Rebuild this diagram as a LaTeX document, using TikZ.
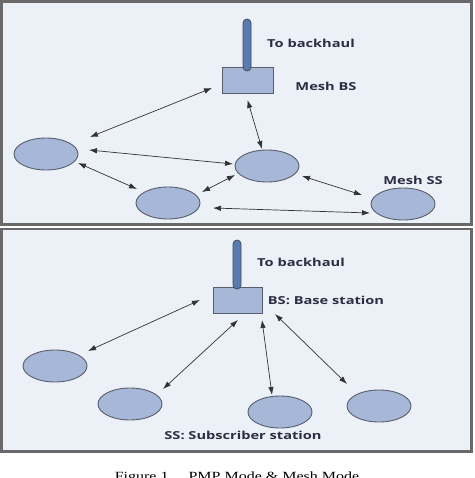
\documentclass[tikz,border=0pt]{standalone}
\usepackage{fontspec}
\newfontfamily\lblfont{Open Sans}
\newfontfamily\capfont{Liberation Serif}
\usetikzlibrary{arrows.meta,shapes.geometric}
\definecolor{panelbg}{RGB}{236,240,247}
\definecolor{panelline}{RGB}{105,105,108}
\definecolor{ssfill}{RGB}{167,183,216}
\definecolor{ssline}{RGB}{88,94,108}
\definecolor{polefill}{RGB}{88,124,178}
\definecolor{lblcol}{RGB}{45,45,68}
\begin{document}
\begin{tikzpicture}[x=1pt, y=-1pt,
  panel/.style={fill=panelbg, draw=panelline, line width=2.5pt},
  ss/.style={ellipse, draw=ssline, fill=ssfill, line width=0.9pt, minimum width=64pt, minimum height=32pt, inner sep=0pt},
  bsbox/.style={rectangle, draw=ssline, fill=ssfill, line width=0.9pt, minimum width=51pt, minimum height=26pt, inner sep=0pt},
  pole/.style={fill=polefill, draw=ssline!80!black, line width=0.8pt, rounded corners=4pt},
  link/.style={{Latex[length=8pt,width=5.5pt]}-{Latex[length=8pt,width=5.5pt]}, draw=black!80, line width=0.7pt},
  lbl/.style={text=lblcol, font=\lblfont\bfseries\fontsize{11}{13}\selectfont, xscale=1.33, inner sep=0pt}]
\clip (0,0) rectangle (474,478);
\useasboundingbox (0,0) rectangle (474,478);
\fill[white] (0,0) rectangle (474,478);

% Mesh mode
\filldraw[panel] (1.5,1.5) rectangle (471.5,224.5);
\node[bsbox] (bs) at (247.5,80) {}; % Mesh BS
\filldraw[pole] (243,19) rectangle (251,71);
\node[ss] (e1) at (46,154) {};
\node[ss] (e2) at (267,166) {};
\node[ss] (e3) at (168,203) {};
\node[ss] (e4) at (403,204) {};
\draw[link] ([shift={(44,-17)}]e1.center) -- ([shift={(-35.5,8)}]bs.center);
\draw[link] ([shift={(0,20)}]bs.center) -- ([shift={(-5,-17)}]e2.center);
\draw[link] ([shift={(43,-4)}]e1.center) -- ([shift={(-34,-2)}]e2.center);
\draw[link] ([shift={(32,9)}]e1.center) -- ([shift={(-31,-14)}]e3.center);
\draw[link] ([shift={(34,-11)}]e3.center) -- ([shift={(-32,9)}]e2.center);
\draw[link] ([shift={(35,10)}]e2.center) -- ([shift={(-41,-9)}]e4.center);
\draw[link] ([shift={(45,5)}]e3.center) -- ([shift={(-33,9)}]e4.center);
\node[lbl] (bh1) at (311,43) {To backhaul};
\node[lbl] (mbs) at (326,86) {Mesh BS};
\node[lbl] (mss) at (413,180) {Mesh SS};

% PMP mode
\filldraw[panel] (1.5,229) rectangle (471.5,451.5);
\node[bsbox, minimum width=49pt] (bs2) at (237.5,300) {}; % BS
\filldraw[pole] (233,240) rectangle (241,289);
\node[ss] (ea) at (55,366) {};
\node[ss] (eb) at (130,404) {};
\node[ss] (ec) at (280,412) {};
\node[ss] (ed) at (379,406) {};
\draw[link] ([shift={(33,-15)}]ea.center) -- ([shift={(-37.5,0)}]bs2.center);
\draw[link] ([shift={(33,-15)}]eb.center) -- ([shift={(0.5,20)}]bs2.center);
\draw[link] ([shift={(-8,-17)}]ec.center) -- ([shift={(24.5,20)}]bs2.center);
\draw[link] ([shift={(-32,-22)}]ed.center) -- ([shift={(37.5,14)}]bs2.center);
\node[lbl] (bh2) at (301,262) {To backhaul};
\node[lbl] (bsl) at (326,300) {BS: Base station};
\node[lbl] (ssl) at (243,435) {SS: Subscriber station};

% caption, cut by the page edge
\node[font=\capfont\fontsize{12.5}{14}\selectfont, xscale=1.28, anchor=base, inner sep=0pt] (cap) at (237,480.5) {Figure 1.\quad PMP Mode \& Mesh Mode};
\end{tikzpicture}
\end{document}
